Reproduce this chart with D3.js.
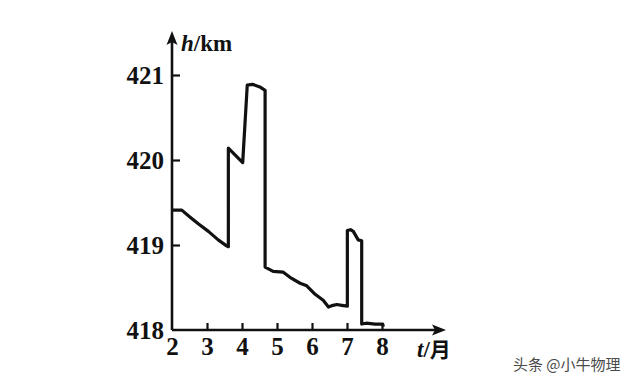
<!DOCTYPE html>
<html>
<head>
<meta charset="utf-8">
<script src="https://cdn.jsdelivr.net/npm/d3@7"></script>
<style>
  body { margin: 0; background: #fff; }
  svg { display: block; }
  .tick text { font-family: "Liberation Serif", "DejaVu Serif", serif; font-weight: bold; font-size: 25px; fill: #111; }
</style>
</head>
<body>
<svg id="chart" width="640" height="385"></svg>
<script>
// months (t) and orbit height (h, km)
const tMonths = [2, 2.28, 2.51, 2.75, 3.04, 3.32, 3.56, 3.61, 3.61, 4.02, 4.15, 4.3, 4.51, 4.66, 4.66, 4.89, 5.18, 5.37, 5.66, 5.85, 6.09, 6.32, 6.47, 6.6, 6.71, 6.85, 7.01, 7.01, 7.1, 7.18, 7.32, 7.42, 7.42, 7.55, 7.8, 8.02, 8.04]
const hKm = [419.41, 419.41, 419.33, 419.25, 419.16, 419.06, 418.99, 418.98, 420.14, 419.97, 420.88, 420.89, 420.86, 420.82, 418.74, 418.69, 418.68, 418.62, 418.55, 418.52, 418.42, 418.35, 418.27, 418.29, 418.3, 418.29, 418.28, 419.17, 419.18, 419.16, 419.06, 419.05, 418.07, 418.08, 418.07, 418.07, 418.04]
const xTicks = [2, 3, 4, 5, 6, 7, 8]
const yTicks = [418, 419, 420, 421]

const svg = d3.select("#chart")
const x = d3.scaleLinear().domain([2, 8]).range([172, 382])
const y = d3.scaleLinear().domain([418, 421]).range([330, 75])

const serif = "\"Liberation Serif\", \"DejaVu Serif\", serif"

// axes (ticks point inward)
const xAxis = svg.append("g")
  .attr("transform", `translate(0,${y(418)})`)
  .call(d3.axisBottom(x).tickValues(xTicks).tickFormat(d3.format("d")).tickSize(-7).tickPadding(8))
xAxis.select(".domain").remove()
xAxis.selectAll(".tick line").attr("stroke", "#111").attr("stroke-width", 2.2)
xAxis.selectAll(".tick text").attr("dy", "0.71em").attr("y", 7)
xAxis.selectAll(".tick").filter(d => d === 2).select("line").remove()

const yAxis = svg.append("g")
  .attr("transform", `translate(${x(2)},0)`)
  .call(d3.axisLeft(y).tickValues(yTicks).tickFormat(d3.format("d")).tickSize(-8).tickPadding(8))
yAxis.select(".domain").remove()
yAxis.selectAll(".tick line").attr("stroke", "#111").attr("stroke-width", 2.2)
yAxis.selectAll(".tick").filter(d => d === 418).select("line").remove()

// axis lines with arrows
svg.append("path")
  .attr("d", `M${x(2)},${y(418)}H440`)
  .attr("stroke", "#111").attr("stroke-width", 2.6).attr("fill", "none")
svg.append("path")
  .attr("d", `M${x(2)},${y(418)}V38`)
  .attr("stroke", "#111").attr("stroke-width", 2.6).attr("fill", "none")
svg.append("path")
  .attr("d", "M446,330 L432,324.5 L435,330 L432,335.5 Z")
  .attr("fill", "#111")
svg.append("path")
  .attr("d", `M${x(2)},31 L${x(2) - 5.5},45 L${x(2)},42 L${x(2) + 5.5},45 Z`)
  .attr("fill", "#111")

// axis titles
const yTitle = svg.append("text")
  .attr("x", 181).attr("y", 51)
  .attr("font-family", serif).attr("font-weight", "bold").attr("font-size", 23).attr("fill", "#111")
yTitle.append("tspan").attr("font-style", "italic").text("h")
yTitle.append("tspan").text("/km")

const xTitle = svg.append("text")
  .attr("x", 417).attr("y", 357)
  .attr("font-family", serif).attr("font-weight", "bold").attr("font-size", 23).attr("fill", "#111")
xTitle.append("tspan").attr("font-style", "italic").text("t")
xTitle.append("tspan").text("/")
xTitle.append("tspan").attr("font-family", "\"Noto Sans CJK SC\", sans-serif").attr("font-size", 21).text("月")

// height curve
const line = d3.line()
  .x((d, i) => x(tMonths[i]))
  .y(d => y(d))
svg.append("path")
  .datum(hKm)
  .attr("d", line)
  .attr("fill", "none")
  .attr("stroke", "#111")
  .attr("stroke-width", 3.2)
  .attr("stroke-linejoin", "round")

// watermark
svg.append("text")
  .attr("x", 513).attr("y", 370)
  .attr("font-family", "\"Noto Sans CJK SC\", sans-serif").attr("font-size", 15)
  .attr("fill", "#4a4a4a")
  .text("头条 @小牛物理")
</script>
</body>
</html>
